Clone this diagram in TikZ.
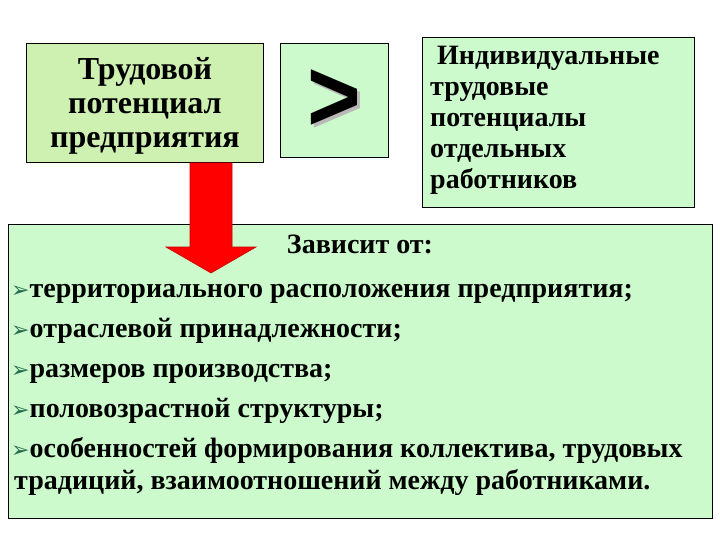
\documentclass[tikz,border=0pt]{standalone}
\usepackage{fontspec}
\setmainfont{Liberation Serif}
\newfontfamily\symfnt{DejaVu Sans}
\newfontfamily\gtfnt{Liberation Sans}
\definecolor{boxA}{RGB}{206,240,176}
\definecolor{boxB}{RGB}{204,250,204}
\definecolor{bul}{RGB}{40,110,80}
\definecolor{arrred}{RGB}{255,0,0}
\newcommand{\bl}{{\symfnt\color{bul}\fontsize{22}{22}\selectfont ➢}}
\tikzset{
  panel/.style={draw=black, line width=0.9pt, anchor=north west, inner sep=0pt},
  txt/.style={font=\bfseries\fontsize{28}{31}\selectfont, inner sep=0pt},
}
\begin{document}
\begin{tikzpicture}[x=1pt,y=-1pt]
\useasboundingbox[fill=white] (0,0) rectangle (720,540);
% boxes
\node[panel, fill=boxA, minimum width=237pt, minimum height=119pt] (pot) at (26,43) {};
\node[panel, fill=boxB, minimum width=108pt, minimum height=114pt] (gtb) at (280,43) {};
\node[panel, fill=boxB, minimum width=272pt, minimum height=170pt] (ind) at (422,37) {};
\node[panel, fill=boxB, minimum width=704pt, minimum height=294pt] (dep) at (8,224) {};
% arrow
\coordinate (tip) at (211,273);
\fill[arrred, draw={rgb,255:red,200;green,0;blue,0}, line width=0.6pt]
  (pot.south -| 190,0) -- (pot.south -| 232,0) -- (232,247) -- (256,247) -- (tip) -- (166,247) -- (190,247) -- cycle;
% texts
\node[txt, align=center, font=\bfseries\fontsize{32}{34}\selectfont] (potT) at ([yshift=-3]pot.center) {Трудовой\\потенциал\\предприятия};
\node[font=\gtfnt\bfseries\fontsize{92}{92}\selectfont, text=gray!55, inner sep=0pt, yscale=1.12] (gtS) at ([shift={(3,3)}]gtb.center) {>};
\node[font=\gtfnt\bfseries\fontsize{92}{92}\selectfont, inner sep=0pt, yscale=1.12] (gtT) at (gtb.center) {>};
\node[txt, align=left, anchor=north west] (indT) at (430,46) {\ Индивидуальные\\трудовые\\потенциалы\\отдельных\\работников};
\node[txt, anchor=base] (z) at (360,254) {Зависит от:};
\node[txt, anchor=base west] (l1) at (11,297) {\bl территориального расположения предприятия;};
\node[txt, anchor=base west] (l2) at (11,337) {\bl отраслевой принадлежности;};
\node[txt, anchor=base west] (l3) at (11,377) {\bl размеров производства;};
\node[txt, anchor=base west] (l4) at (11,417) {\bl половозрастной структуры;};
\node[txt, anchor=base west] (l5) at (11,457) {\bl особенностей формирования коллектива, трудовых};
\node[txt, anchor=base west] (l6) at (14,489) {традиций, взаимоотношений между работниками.};
\end{tikzpicture}
\end{document}
